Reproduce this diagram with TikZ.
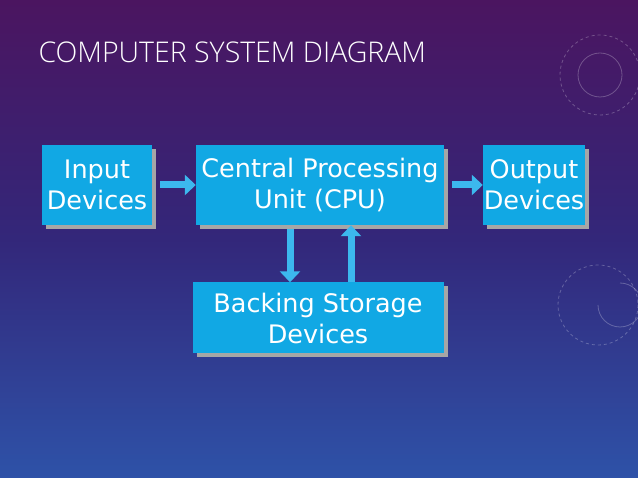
\documentclass[tikz,border=0pt]{standalone}
\usepackage{fontspec}
\setmainfont{DejaVu Sans}
\newfontfamily\titlefont{Open Sans Light}
\usetikzlibrary{shadows,arrows.meta}
\definecolor{boxblue}{HTML}{11A8E4}
\definecolor{arrblue}{HTML}{3CB8EE}
\definecolor{bgtop}{HTML}{4B1560}
\definecolor{bgmid}{HTML}{33277A}
\definecolor{bgbot}{HTML}{2E52A8}
\tikzset{
 box/.style={draw=none,fill=boxblue,text=white,align=center,font=\fontsize{25.5}{31}\selectfont,inner sep=0pt,
   drop shadow={shadow xshift=4pt,shadow yshift=-4pt,opacity=1,fill=gray!70}},
 arr/.style={-{Triangle[width=20pt,length=11pt]},line width=7pt,draw=arrblue},
 deco/.style={draw=white,opacity=0.25,line width=0.8pt}
}
\begin{document}
\begin{tikzpicture}[x=1pt,y=-1pt]
\useasboundingbox (0,0) rectangle (638,478);
\shade[top color=bgtop,bottom color=bgbot,middle color=bgmid] (0,0) rectangle (638,478);
\draw[deco] (600,75) circle (22);
\draw[deco,dashed] (600,75) circle (40);
\draw[deco] (598,305) arc (180:-90:22);
\draw[deco,dashed] (598,305) circle (40);
\node[text=white,anchor=west,font=\titlefont\fontsize{28.5}{32}\selectfont] (title) at (35,52) {COMPUTER SYSTEM DIAGRAM};
\node[box,minimum width=110pt,minimum height=80pt] (in) at (97,185) {Input\\Devices};
\node[box,minimum width=248pt,minimum height=80pt] (cpu) at (320,185) {Central Processing\\Unit (CPU)};
\node[box,minimum width=102pt,minimum height=80pt] (out) at (534,185) {Output\\Devices};
\node[box,minimum width=251pt,minimum height=71pt] (bs) at (318,318) {Backing Storage\\Devices};
\draw[arr] (in.east)++(8,0) -- (cpu.west);
\draw[arr] (cpu.east)++(8,0) -- (out.west);
\draw[arr] (cpu.south -| 290,0)++(0,4) -- (bs.north -| 290,0);
\draw[arr] (bs.north -| 351,0) -- (cpu.south -| 351,0);
\end{tikzpicture}
\end{document}
